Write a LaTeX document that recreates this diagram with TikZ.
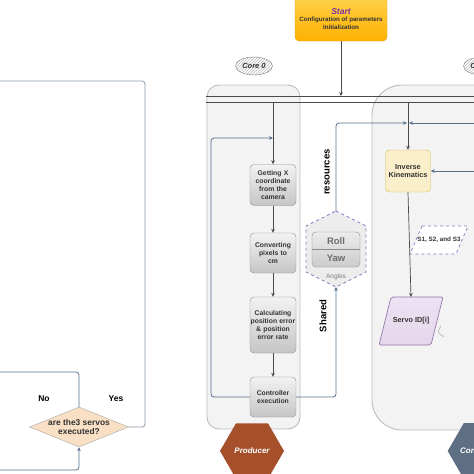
\documentclass[tikz,border=0pt]{standalone}
\usepackage{fontspec}
\setmainfont{Liberation Sans}
\usetikzlibrary{shapes.geometric,patterns,arrows.meta}
\definecolor{boxline}{HTML}{BDBDBD}
\definecolor{boxfill}{HTML}{F3F3F3}
\definecolor{procline}{HTML}{8C8C8C}
\definecolor{txtdark}{HTML}{333333}
\definecolor{lndark}{HTML}{4A4A4A}
\definecolor{lnblue}{HTML}{56708C}
\definecolor{lnlight}{HTML}{8A9AAC}
\definecolor{startA}{HTML}{FFD24A}
\definecolor{startB}{HTML}{FFB000}
\definecolor{startline}{HTML}{E0A010}
\definecolor{startpurple}{HTML}{7A2FA8}
\definecolor{ikfill}{HTML}{FBEFCB}
\definecolor{ikline}{HTML}{D6B656}
\definecolor{servofill}{HTML}{E4D6EC}
\definecolor{servoline}{HTML}{9673A6}
\definecolor{dashblue}{HTML}{7C7CC4}
\definecolor{diafill}{HTML}{F9DFC4}
\definecolor{prodfill}{HTML}{A5502B}
\definecolor{consfill}{HTML}{5E6E83}
\tikzset{
  cont/.style={draw=boxline, fill=boxfill, line width=0.9pt},
  proc/.style={draw=procline, top color=gray!10, bottom color=gray!45, rounded corners=4,
    minimum width=46, text width=45, align=center, inner xsep=0.5,
    font=\fontsize{6.8}{7.8}\selectfont\bfseries, text=txtdark},
  darkline/.style={draw=lndark, line width=0.7pt},
  flow/.style={draw=lnblue, line width=0.8pt, rounded corners=3},
  lightflow/.style={draw=lnlight, line width=0.8pt, rounded corners=3},
  arr/.style={-{Stealth[length=4pt,width=3.6pt]}},
  corelbl/.style={ellipse, draw=gray, preaction={fill=white}, pattern=north east lines,
    pattern color=gray!55, minimum width=37, minimum height=18, inner sep=0,
    font=\fontsize{7.5}{8}\selectfont\bfseries\itshape, text=txtdark},
  hexa/.style={regular polygon, regular polygon sides=6, minimum size=64, inner sep=0,
    text=white, font=\fontsize{8}{9}\selectfont\bfseries\itshape},
  lbl/.style={font=\fontsize{8.5}{9}\selectfont\bfseries, text=black},
  sidelbl/.style={font=\fontsize{9.5}{10}\selectfont\bfseries, text=black, rotate=90},
}
\begin{document}
\begin{tikzpicture}[x=1pt,y=-1pt]
\useasboundingbox (0,0) rectangle (474,474);
\clip (0,0) rectangle (474,474);

% containers
\draw[cont, rounded corners=12] (207,85) rectangle (300,429);
\draw[cont, rounded corners=30] (372,85) rectangle (520,430);

% core labels
\node[corelbl] (core0) at (254,66) {Core 0};
\node[corelbl] (core1) at (482,66) {Core 1};

% start
\node[draw=startline, top color=startA, bottom color=startB, rounded corners=4,
  minimum width=92, minimum height=44, align=center, inner sep=1,
  font=\fontsize{6.2}{7.8}\selectfont\bfseries, text=txtdark] (start) at (341,19)
  {{\fontsize{8.5}{9}\selectfont\itshape\color{startpurple}Start}\\Configuration of parameters\\Initialization};

% sync bars
\coordinate (barL1) at (206,96); \coordinate (barR1) at (474,96);
\coordinate (barL2) at (206,102); \coordinate (barR2) at (474,102);
\draw[darkline] (barL1) -- (barR1);
\draw[darkline] (barL2) -- (barR2);
\draw[darkline, arr] (start.south) -- (start.south |- barL1);

% producer chain
\node[proc, minimum height=41] (get) at (273,185) {Getting X\\coordinate\\from the\\camera};
\node[proc, minimum height=40] (conv) at (273,253) {Converting\\pixels to\\cm};
\node[proc, minimum height=56] (calc) at (273,325) {Calculating\\position error\\\& position\\error rate};
\node[proc, minimum height=40] (ctrl) at (273,397) {Controller\\execution};
\draw[darkline, arr] (get.north |- barL2) -- (get.north);
\draw[darkline, arr] (get.south) -- (conv.north);
\draw[darkline, arr] (conv.south) -- (calc.north);
\draw[darkline, arr] (calc.south) -- (ctrl.north);
\coordinate (loopend) at (273,138);
\draw[flow, arr] (ctrl.west) -- (211,397) -- (211,138) -- (loopend);

% shared resources
\coordinate (angtop) at (336,211);
\coordinate (angbot) at (336,287);
\draw[draw=dashblue, fill=gray!14, dashed, line width=0.8pt]
  (angtop) -- (366,226) -- (366,272) -- (angbot) -- (306,272) -- (306,226) -- cycle;
\draw[draw=procline, top color=gray!15, bottom color=gray!40, rounded corners=4] (312,232) rectangle (360,267);
\draw[draw=procline] (312,249.5) -- (360,249.5);
\node[font=\fontsize{9.5}{10}\selectfont\bfseries, text=gray!85!black] (roll) at (336,241) {Roll};
\node[font=\fontsize{9.5}{10}\selectfont\bfseries, text=gray!85!black] (yaw) at (336,258.5) {Yaw};
\node[font=\fontsize{6.5}{7}\selectfont, text=gray] (angles) at (336,277) {Angles};
\node[sidelbl] (res) at (327,172) {resources};
\node[sidelbl] (shared) at (323,316) {Shared};
\draw[flow, arr] (ctrl.east) -- (336,397) -- (angbot);

% core 1
\node[draw=ikline, fill=ikfill, rounded corners=4, minimum width=45, minimum height=42,
  align=center, inner sep=1, font=\fontsize{7.3}{8.6}\selectfont\bfseries, text=txtdark]
  (ik) at (408,171) {Inverse\\Kinematics};
\coordinate (bowL) at (407,123);
\coordinate (bowR) at (409,123);
\coordinate (rin1) at (474,123);
\coordinate (rin2) at (474,171);
\draw[flow, arr] (angtop) -- (336,123) -- (bowL);
\draw[flow, arr] (rin1) -- (bowR);
\draw[darkline, arr] (ik.north |- barL2) -- (ik.north);
\draw[flow, arr] (rin2) -- (ik.east);

% S1,S2,S3 data (parallelogram)
\draw[draw=dashblue, dashed, fill=white, line width=0.7pt]
  (422,226) -- (468,226) -- (456,254) -- (410,254) -- cycle;
\node[font=\fontsize{6.3}{7}\selectfont\bfseries, text=txtdark] (sset) at (439,240) {S1, S2, and S3};

% Servo ID (parallelogram)
\coordinate (servotop) at (411,297);
\draw[draw=servoline, top color=servofill!70, bottom color=servofill, line width=0.7pt, rounded corners=2]
  (391,297) -- (443,297) -- (431,345) -- (379,345) -- cycle;
\node[font=\fontsize{7.3}{8}\selectfont\bfseries, text=txtdark] (servo) at (411,321) {Servo ID[i]};
\draw[darkline, arr] (ik.south) -- (servotop);
\draw[draw=gray!70, line width=0.5pt] (441,326) .. controls (437,332) .. (444,337);

% producer / consumer
\node[hexa, fill=prodfill] (prod) at (252,451) {Producer};
\node[hexa, fill=consfill] (cons) at (480,451) {Consumer};

% left decision
\node[diamond, draw=gray!70, fill=diafill, minimum width=99, minimum height=40, inner sep=0] (dia) at (79,427) {};
\node[font=\fontsize{8.4}{9.2}\selectfont\bfseries, text=txtdark, align=center] (diatxt) at (dia) {are the3 servos\\executed?};
\coordinate (yesend) at (0,81);
\coordinate (noend) at (0,372);
\coordinate (inend) at (0,470);
\draw[lightflow] (dia.east) -- (145,427) -- (145,81) -- (yesend);
\draw[flow] (dia.north) -- (79,372) -- (noend);
\draw[flow, arr] (inend) -- (79,470) -- (dia.south);
\node[lbl] (no) at (44,399) {No};
\node[lbl] (yes) at (116,399) {Yes};
\end{tikzpicture}
\end{document}
